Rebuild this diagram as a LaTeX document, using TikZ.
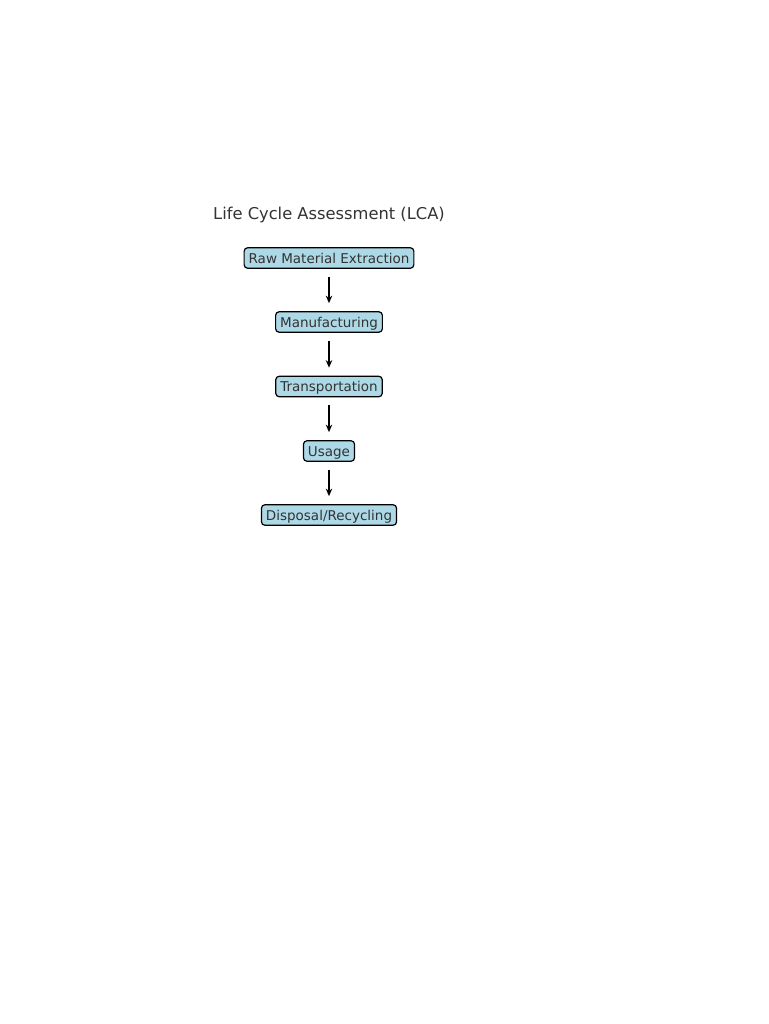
\documentclass[tikz,border=0pt]{standalone}
\usepackage{fontspec}
\setmainfont{DejaVu Sans}
\usetikzlibrary{arrows.meta}
\definecolor{boxfill}{HTML}{ADD8E6}
\definecolor{txt}{HTML}{333333}
\begin{document}
\begin{tikzpicture}[x=1pt,y=-1pt,
  stagebox/.style={draw=black,line width=1.2pt,fill=boxfill,rounded corners=3.5pt,
    minimum height=20.5pt,inner xsep=4.5pt,inner ysep=0pt,text=txt,
    text height=10pt,text depth=0pt,
    font=\fontsize{13.5}{15}\selectfont},
  flow/.style={line width=1.4pt,-{Stealth[length=7.5pt,width=6.5pt]},shorten <=8pt,shorten >=8pt}]
\useasboundingbox (0,0) rectangle (768,1024);
\fill[white] (0,0) rectangle (768,1024);
\node[text=txt,font=\fontsize{16.3}{18}\selectfont] (title) at (329,215) {Life Cycle Assessment (LCA)};
\node[stagebox] (raw) at (329,258) {Raw Material Extraction};
\node[stagebox] (man) at (329,322) {Manufacturing};
\node[stagebox] (tra) at (329,386.5) {Transportation};
\node[stagebox] (use) at (329,451) {Usage};
\node[stagebox] (dis) at (329,515) {Disposal/Recycling};
\draw[flow] (raw) -- (man);
\draw[flow] (man) -- (tra);
\draw[flow] (tra) -- (use);
\draw[flow] (use) -- (dis);
\end{tikzpicture}
\end{document}
